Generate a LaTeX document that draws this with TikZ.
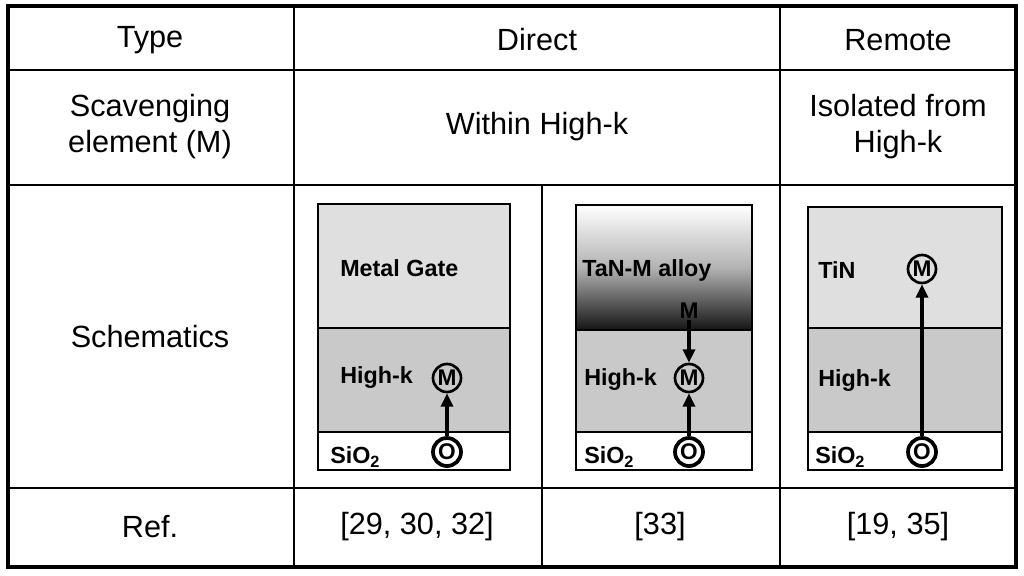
\documentclass[tikz,border=0pt]{standalone}
\usepackage{fontspec}
\setmainfont{Liberation Sans}
\usetikzlibrary{arrows.meta}
\begin{document}
\begin{tikzpicture}[x=0.75pt,y=-0.75pt,
  cell/.style={font=\fontsize{23}{27}\selectfont,align=center},
  lab/.style={font=\bfseries\fontsize{17.5}{20}\selectfont,anchor=west,inner sep=0pt},
  atom/.style={circle,draw,line width=2pt,inner sep=0pt,minimum size=21pt,font=\bfseries\fontsize{17}{18}\selectfont},
  oatom/.style={atom,line width=2.8pt},
  mv/.style={line width=2.6pt,-{Triangle[length=10pt,width=9pt]}},
  lay/.style={draw,line width=2.2pt}]
\useasboundingbox (0,0) rectangle (1024,575);
\fill[white] (0,0) rectangle (1024,575);
% grid
\draw[line width=1.3pt] (8,70) -- (1016,70) (8,185) -- (1016,185) (8,488) -- (1016,488);
\draw[line width=1.3pt] (294,6) -- (294,567) (780,6) -- (780,567) (542,185) -- (542,567);
\draw[line width=2.6pt] (8,6) rectangle (1016,567);
% texts
\node[cell] (t1) at (150,40) {Type};
\node[cell] (t2) at (537,40) {Direct};
\node[cell] (t3) at (898,40) {Remote};
\node[cell] (s1) at (150,127) {Scavenging\\element (M)};
\node[cell] (s2) at (537,127) {Within High-k};
\node[cell] (s3) at (898,127) {Isolated from\\High-k};
\node[cell] (c1) at (150,337) {Schematics};
\node[cell] (r1) at (150,527) {Ref.};
\node[cell] (r2) at (417,527) {[29, 30, 32]};
\node[cell] (r3) at (660,527) {[33]};
\node[cell] (r4) at (898,527) {[19, 35]};
% box 1
\fill[gray!25] (318,204) rectangle (510,328);
\fill[gray!42] (318,328) rectangle (510,432);
\draw[lay] (318,204) rectangle (510,470) (318,328) -- (510,328) (318,432) -- (510,432);
\node[lab] (a1) at (340,268) {Metal Gate};
\node[lab] (a2) at (340,378) {High-k};
\node[lab] (a3) at (330,457) {SiO\textsubscript{2}};
\node[atom] (m1) at (447,378) {M};
\node[oatom] (o1) at (447,452) {O};
\draw[mv] (o1) -- (m1);
% box 2
\shade[top color=white,bottom color=black!92,middle color=gray!60] (576,205) rectangle (752,330);
\fill[gray!42] (576,330) rectangle (752,432);
\draw[lay] (576,205) rectangle (752,470) (576,330) -- (752,330) (576,432) -- (752,432);
\node[lab] (b1) at (582,270) {TaN-M alloy};
\node[lab] (b2) at (584,380) {High-k};
\node[lab] (b3) at (584,457) {SiO\textsubscript{2}};
\node[font=\bfseries\fontsize{17}{18}\selectfont,inner sep=1pt] (mt) at (689,311) {M};
\node[atom] (m2) at (689,378) {M};
\node[oatom] (o2) at (689,452) {O};
\draw[mv] (mt) -- (m2);
\draw[mv] (o2) -- (m2);
% box 3
\fill[gray!25] (808,207) rectangle (1002,328);
\fill[gray!42] (808,328) rectangle (1002,432);
\draw[lay] (808,207) rectangle (1002,470) (808,328) -- (1002,328) (808,432) -- (1002,432);
\node[lab] (d1) at (818,270) {TiN};
\node[lab] (d2) at (818,381) {High-k};
\node[lab] (d3) at (815,457) {SiO\textsubscript{2}};
\node[atom] (m3) at (922,269) {M};
\node[oatom] (o3) at (922,452) {O};
\draw[mv] (o3) -- (m3);
\end{tikzpicture}
\end{document}
